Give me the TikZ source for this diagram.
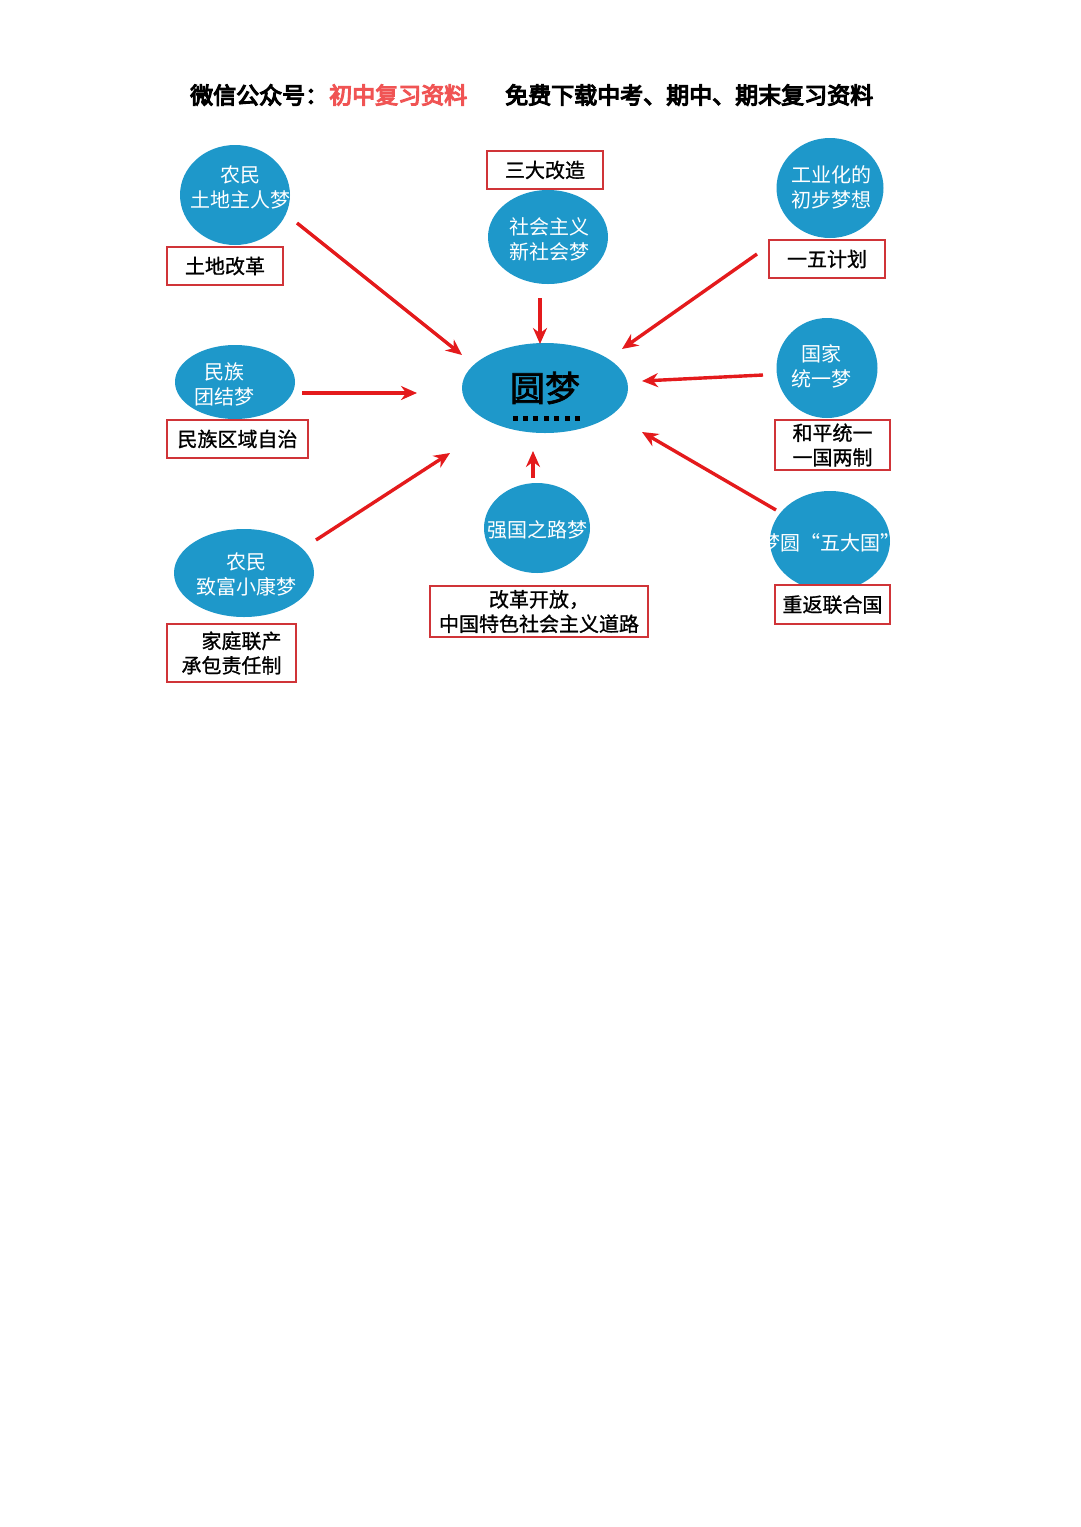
\documentclass[tikz,border=0pt]{standalone}
\usepackage{fontspec}
\setmainfont{Noto Sans CJK SC}
\newfontfamily\cjk{Noto Sans CJK SC}
\newfontfamily\cjkheavy[FakeBold=5]{Noto Sans CJK SC}
\newfontfamily\cjkmid[FakeBold=1]{Noto Sans CJK SC}
\newfontfamily\cjkbig[FakeBold=2]{Noto Sans CJK SC}
\usetikzlibrary{arrows.meta,shapes.geometric}
\definecolor{dreamblue}{RGB}{30,152,202}
\definecolor{arrowred}{RGB}{228,26,28}
\definecolor{boxred}{RGB}{208,52,56}
\definecolor{titlered}{RGB}{240,84,84}
\tikzset{
  dream/.style={ellipse,fill=dreamblue,draw=none,inner sep=0pt},
  dreamtext/.style={text=white,align=center,font=\cjk\fontsize{20}{25}\selectfont,inner sep=0pt},
  factbox/.style={draw=boxred,line width=1.6pt,fill=white,text=black,align=center,
    font=\cjkmid\fontsize{20}{24.5}\selectfont,inner sep=0pt},
  flow/.style={draw=arrowred,line width=3.4pt,-{Stealth[length=16pt,width=14pt]}},
  titletext/.style={font=\cjkheavy\fontsize{23}{23}\selectfont,inner sep=0pt,anchor=west}
}
\begin{document}
\begin{tikzpicture}[x=1pt,y=-1pt]
\path[fill=white,use as bounding box] (0,0) rectangle (1080,1527);

% title
\node[titletext,text=black] (t1) at (190,95) {微信公众号：};
\node[titletext,text=titlered] (t2) at (329,95) {初中复习资料};
\node[titletext,text=black] (t3) at (505,95) {免费下载中考、期中、期末复习资料};

% ellipses
\node[dream,minimum width=110pt,minimum height=100pt] (e1) at (235,195) {};
\node[dreamtext] (e1t) at (240,187) {农民\\土地主人梦};
\node[dream,minimum width=120pt,minimum height=94pt] (e2) at (548,237) {};
\node[dreamtext] (e2t) at (549,239) {社会主义\\新社会梦};
\node[dream,minimum width=107pt,minimum height=100pt] (e3) at (830,188) {};
\node[dreamtext] (e3t) at (831,187) {工业化的\\初步梦想};
\node[dream,minimum width=120pt,minimum height=74pt] (e4) at (235,382) {};
\node[dreamtext] (e4t) at (224,384) {民族\\团结梦};
\node[dream,minimum width=166pt,minimum height=90pt] (c) at (545,388) {};
\node[text=black,font=\cjkbig\fontsize{35}{35}\selectfont,inner sep=0pt] (ct) at (545,388) {圆梦};
\foreach \i in {0,...,6} {
  \fill[black] (512.5+\i*10.4,415.5) rectangle ++(5,5);
}
\node[dream,minimum width=101pt,minimum height=100pt] (e6) at (827,368) {};
\node[dreamtext] (e6t) at (821,366) {国家\\统一梦};
\node[dream,minimum width=140pt,minimum height=88pt] (e7) at (244,573) {};
\node[dreamtext] (e7t) at (246,574) {农民\\致富小康梦};
\node[dream,minimum width=106pt,minimum height=90pt] (e8) at (537,528) {};
\node[dreamtext] (e8t) at (537,530) {强国之路梦};
\node[dream,minimum width=120pt,minimum height=100pt] (e9) at (830,541) {};
\node[dreamtext] (e9t) at (830,543) {梦圆“五大国”};

% fact boxes
\node[factbox,minimum width=116pt,minimum height=38pt] (b1) at (225,266) {土地改革};
\node[factbox,minimum width=116pt,minimum height=38pt] (b2) at (545,170) {三大改造};
\node[factbox,minimum width=116pt,minimum height=38pt] (b3) at (827,259) {一五计划};
\node[factbox,minimum width=141pt,minimum height=38pt] (b4) at (237.5,439) {民族区域自治};
\node[factbox,minimum width=115pt,minimum height=50pt] (b6) at (832.5,445) {和平统一\\一国两制};
\node[factbox,minimum width=115pt,minimum height=39pt] (b9) at (832.5,604.5) {重返联合国};
\node[factbox,minimum width=129pt,minimum height=58pt,align=right] (b7) at (231.5,653) {家庭联产\\承包责任制};
\node[factbox,minimum width=218pt,minimum height=51pt] (b8) at (539,611.5) {改革开放，\\中国特色社会主义道路};

% arrow end points
\coordinate (a1s) at (297,223); \coordinate (a1e) at (462,355);
\coordinate (a2s) at (540,298); \coordinate (a2e) at (540,344);
\coordinate (a3s) at (757,254); \coordinate (a3e) at (622,349);
\coordinate (a4s) at (302,393); \coordinate (a4e) at (417,393);
\coordinate (a6s) at (763,375); \coordinate (a6e) at (642,381);
\coordinate (a7s) at (316,540); \coordinate (a7e) at (450,453);
\coordinate (a8s) at (533,478); \coordinate (a8e) at (533,451);
\coordinate (a9s) at (776,510); \coordinate (a9e) at (642,432);

\draw[flow] (a1s) -- (a1e);
\draw[flow] (a2s) -- (a2e);
\draw[flow] (a3s) -- (a3e);
\draw[flow] (a4s) -- (a4e);
\draw[flow] (a6s) -- (a6e);
\draw[flow] (a7s) -- (a7e);
\draw[flow] (a8s) -- (a8e);
\draw[flow] (a9s) -- (a9e);
\end{tikzpicture}
\end{document}
